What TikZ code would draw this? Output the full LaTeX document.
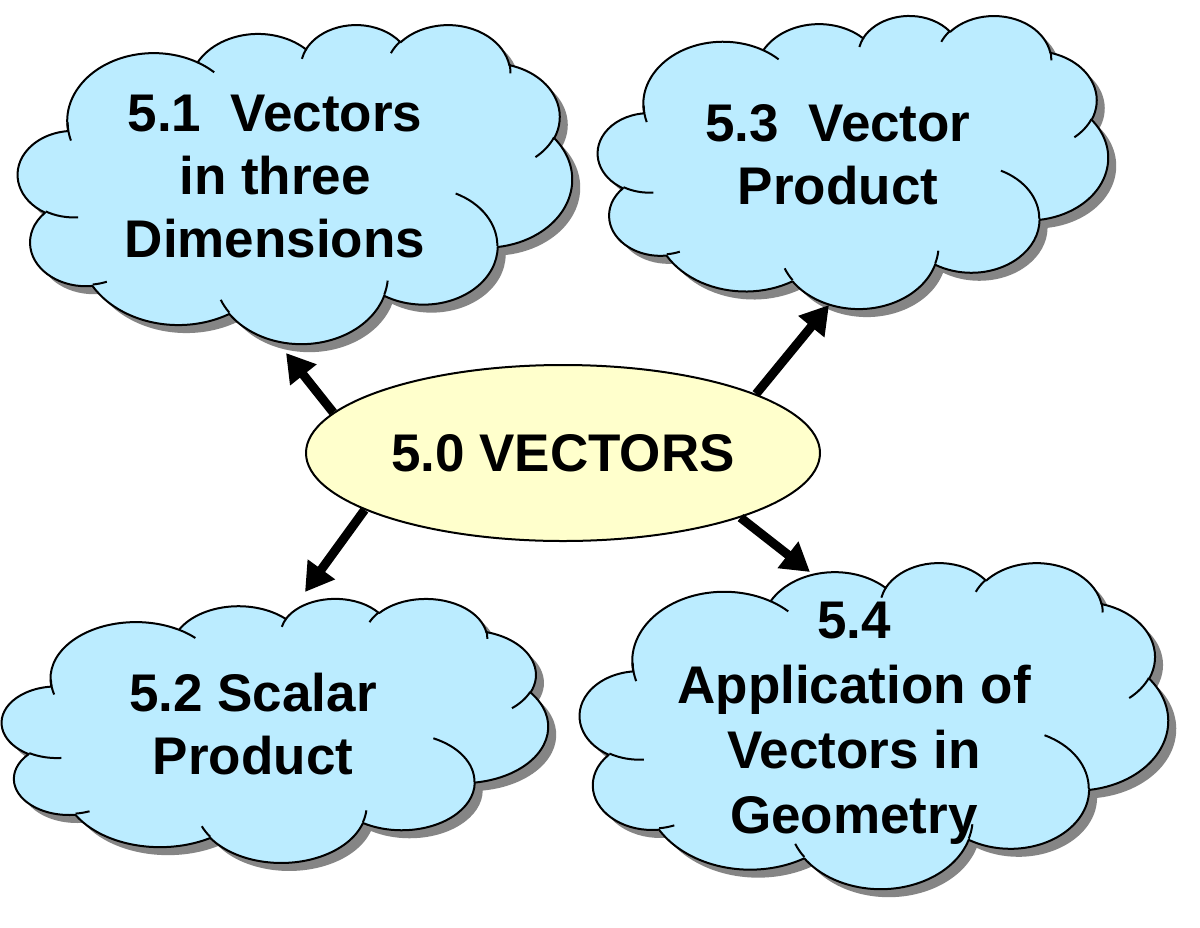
\documentclass[tikz,border=0pt]{standalone}
\usepackage{fontspec}
\setmainfont{Liberation Sans}
\usetikzlibrary{arrows.meta,shapes.geometric}
\definecolor{cloudfill}{HTML}{BBECFF}
\definecolor{ellfill}{HTML}{FFFFCC}
\definecolor{shadowgray}{HTML}{858585}
% elliptical arc with DrawingML (visual) angles
\newcommand\carc[4]{arc[x radius=#1,y radius=#2,start angle={pa(#3,#1,#2)},delta angle={pd(#3,#4,#1,#2)}]}
\newcommand\cloudoutline{(39.00,143.70)
  \carc{67.53}{91.90}{-190.4875}{123.7805}
  \carc{53.33}{72.67}{-144.1024}{89.9452}
  \carc{43.65}{59.45}{-145.8079}{99.7230}
  \carc{48.57}{65.95}{-130.9861}{117.2417}
  \carc{53.33}{72.73}{-78.7089}{109.0269}
  \carc{67.75}{92.20}{-46.2673}{130.2690}
  \carc{57.85}{78.67}{0.6250}{114.0333}
  \carc{67.52}{92.15}{22.4516}{115.1726}
  \carc{77.20}{105.43}{66.2426}{75.7110}
  \carc{43.60}{59.18}{-274.9421}{146.7356}
  \carc{43.45}{59.45}{-246.8285}{152.5189} -- cycle}
\newcommand\cloudinner{
  (46.93,261.77) \carc{43.45}{59.45}{86.7420}{26.4295}
  (69.28,348.99) \carc{43.60}{59.18}{73.6105}{11.4475}
  (164.78,390.90) \carc{67.52}{92.15}{137.6242}{14.0811}
  (288.27,347.51) \carc{67.52}{92.15}{6.4533}{15.9984}
  (341.29,229.54) \carc{57.85}{78.67}{-70.2924}{70.9174}
  (417.98,153.54) \carc{53.33}{72.73}{30.3180}{27.7515}
  (383.24,54.26) \carc{48.57}{65.95}{-13.7443}{14.8589}
  (290.78,39.52) \carc{48.57}{65.95}{-149.1815}{18.1954}
  (221.41,47.20) \carc{43.65}{59.45}{-163.4943}{17.6864}
  (140.00,51.92) \carc{67.53}{91.90}{-66.7070}{12.3194}
  (41.27,157.89) \carc{67.53}{91.90}{158.8463}{20.6105}}
\newcommand\drawcloud[4]{%
  \begin{scope}[shift={(#1+8,#2+8)},xscale=#3/432,yscale=#4/432]
    \fill[shadowgray] \cloudoutline;
  \end{scope}
  \begin{scope}[shift={(#1,#2)},xscale=#3/432,yscale=#4/432]
    \filldraw[cloudline] \cloudoutline;
    \draw[cloudline] \cloudinner;
  \end{scope}}
\begin{document}
\begin{tikzpicture}[x=1pt,y=-1pt,
  declare function={
    pa(\angA,\radW,\radH)=atan2(\radW*sin(\angA),\radH*cos(\angA));
    pd(\angA,\sweepA,\radW,\radH)=mod(pa(\angA+\sweepA,\radW,\radH)-pa(\angA,\radW,\radH)+720,360);},
  cloudline/.style={draw=black,fill=cloudfill,line width=2pt,line join=round},
  cloudtext/.style={font=\fontsize{53}{63}\selectfont\bfseries,align=center,inner sep=0pt,anchor=center},
  centre/.style={ellipse,draw=black,fill=ellfill,line width=2pt,minimum width=514pt,minimum height=176pt,inner sep=0pt,font=\fontsize{53}{63}\selectfont\bfseries},
  arrowline/.style={line width=9pt,-{Triangle[length=28pt,width=32pt]}}]
\fill[white] (0,0) rectangle (1200,927);
\useasboundingbox (0,0) rectangle (1200,927);
% clouds
\drawcloud{18}{24}{554}{319}
\drawcloud{598}{15}{510}{293}
\drawcloud{2}{598}{546}{264}
\drawcloud{580}{562}{588}{326}
% centre ellipse
\node[centre] (ctr) at (563,453) {5.0 VECTORS};
% arrow tips
\coordinate (tip1) at (286,353);
\coordinate (tip3) at (829,305);
\coordinate (tip2) at (305,592);
\coordinate (tip4) at (810,572);
\draw[arrowline] (ctr.170.7) -- (tip1);
\draw[arrowline] (ctr.17.75) -- (tip3);
\draw[arrowline] (ctr.196.7) -- (tip2);
\draw[arrowline] (ctr.-20) -- (tip4);
% texts
\node[cloudtext] (t51) at (275,177) {5.1\ \ Vectors\\in three\\Dimensions};
\node[cloudtext] (t53) at (838,155) {5.3\ \ Vector\\Product};
\node[cloudtext] (t52) at (253,724) {5.2 Scalar\\Product};
\node[cloudtext,font=\fontsize{53}{65}\selectfont\bfseries] (t54) at (854,723) {5.4\\Application of\\Vectors in\\Geometry};
\end{tikzpicture}
\end{document}
